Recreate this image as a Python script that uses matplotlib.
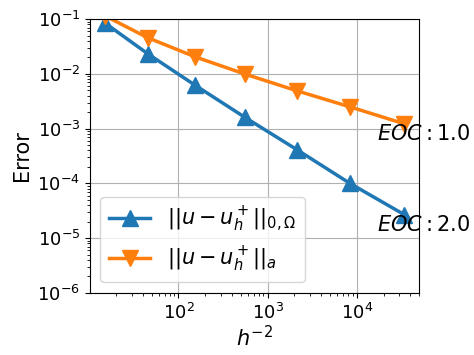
import numpy as np
import matplotlib.pyplot as plt

# h^-2 values and errors
h_inv2 = [15, 45, 154, 560, 2150, 8400, 34000]
err_l2 = [0.085, 0.0235, 0.0062, 0.0016, 4.1e-4, 1.0e-4, 2.7e-5]
err_a = [0.115, 0.046, 0.0205, 0.0099, 0.0049, 0.0025, 0.00123]
eoc = [2.0, 1.0]

fig = plt.figure(figsize=(4.74, 3.55), dpi=100)
ax = fig.add_axes([0.19, 0.175, 0.694, 0.771])

ax.loglog(h_inv2, err_l2, '-^', color='tab:blue', lw=2.5, ms=11,
          label=r'$||u-u_h^+||_{0,\Omega}$')
ax.loglog(h_inv2, err_a, '-v', color='tab:orange', lw=2.5, ms=11,
          label=r'$||u-u_h^+||_a$')

ax.text(h_inv2[-1] / 2, err_a[-1] / 2, r'$EOC: %.1f$' % eoc[1], fontsize=15)
ax.text(h_inv2[-1] / 2, err_l2[-1] / 2, r'$EOC: %.1f$' % eoc[0], fontsize=15)

ax.set_ylim(1e-6, 1e-1)
ax.grid(True)
ax.set_xlabel(r'$h^{-2}$', fontsize=15, labelpad=2)
ax.set_ylabel('Error', fontsize=15)
ax.tick_params(labelsize=13)
ax.legend(loc='lower left', fontsize=15)

fig.savefig('out.png', dpi=100)
